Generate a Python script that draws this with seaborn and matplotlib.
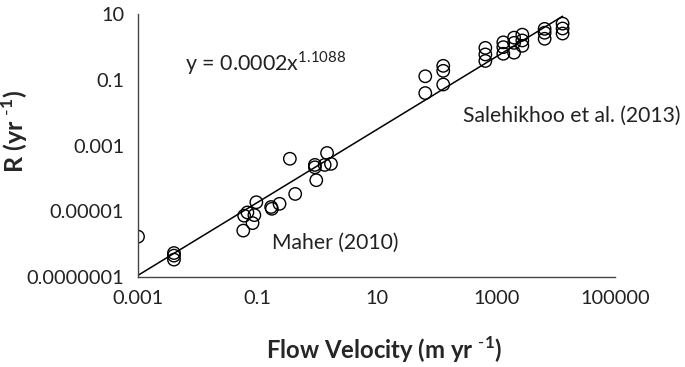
import numpy as np
import pandas as pd
import matplotlib
matplotlib.use('Agg')
import matplotlib.pyplot as plt
import seaborn as sns

# Flow velocity (m/yr) and weathering rate R (1/yr)
velocity = [0.001, 0.004, 0.004, 0.004,
            0.058, 0.060, 0.068, 0.083, 0.089, 0.096, 0.17, 0.175, 0.235, 0.35, 0.43,
            0.92, 0.92, 0.97, 1.47, 1.34, 1.71,
            65, 65, 130, 130, 130,
            660, 660, 660, 1320, 1320, 1320, 2000, 2000, 2000,
            2750, 2750, 2750, 6500, 6500, 6500, 13000, 13000, 13000]
rate = [1.7e-6, 5.4e-7, 4.5e-7, 3.4e-7,
        2.6e-6, 7.4e-6, 9.3e-6, 4.4e-6, 7.7e-6, 1.9e-5, 1.36e-5, 1.2e-5, 1.7e-5, 4.0e-4, 3.4e-5,
        2.6e-4, 2.2e-4, 8.9e-5, 6.0e-4, 2.6e-4, 2.8e-4,
        0.13, 0.04, 0.27, 0.19, 0.073,
        0.95, 0.6, 0.38, 1.4, 1.0, 0.63, 1.95, 1.35, 0.68,
        2.4, 1.6, 1.1, 3.6, 2.75, 1.8, 5.2, 3.7, 2.6]

# power-law trendline (label shows the rounded coefficient)
fit_a = 0.00024
fit_b = 1.1088
fit_x = [0.001, 13000]
fit_label = 'y = 0.0002x$^{\\mathregular{1.1088}}$'

x_ticks = [0.001, 0.1, 10, 1000, 100000]
x_ticklabels = ['0.001', '0.1', '10', '1000', '100000']
y_ticks = [1e-7, 1e-5, 1e-3, 1e-1, 10]
y_ticklabels = ['0.0000001', '0.00001', '0.001', '0.1', '10']

df = pd.DataFrame({'velocity': velocity, 'rate': rate})

sns.set_style('white')
plt.rcParams['font.family'] = ['Lato', 'DejaVu Sans']
plt.rcParams['mathtext.fontset'] = 'custom'
plt.rcParams['mathtext.rm'] = 'Lato'
plt.rcParams['mathtext.bf'] = 'Lato:bold'

fig = plt.figure(figsize=(6.85, 3.67), dpi=100)
ax = fig.add_axes([0.2015, 0.245, 0.697, 0.716])

fx = np.logspace(np.log10(fit_x[0]), np.log10(fit_x[1]), 50)
ax.plot(fx, fit_a * fx ** fit_b, color='black', lw=1.1, zorder=1)

sns.scatterplot(data=df, x='velocity', y='rate', ax=ax, s=80,
                facecolor='none', edgecolor='black', linewidth=1.0, zorder=2)

ax.set_xscale('log')
ax.set_yscale('log')
ax.set_xlim(0.001, 100000)
ax.set_ylim(1e-7, 10)
ax.set_xticks(x_ticks)
ax.set_xticklabels(x_ticklabels)
ax.set_yticks(y_ticks)
ax.set_yticklabels(y_ticklabels)
ax.minorticks_off()

for side in ['top', 'right']:
    ax.spines[side].set_visible(False)
for side in ['left', 'bottom']:
    ax.spines[side].set_color('#444444')
    ax.spines[side].set_linewidth(1.0)
ax.tick_params(axis='both', direction='out', length=5, width=1, color='#444444',
               labelsize=14.4, labelcolor='#222222')
ax.tick_params(axis='y', pad=5)
ax.tick_params(axis='x', pad=4)

ax.set_xlabel('Flow Velocity (m yr $^{\\mathregular{\\text{-}1}}$)', fontsize=17.2, fontweight='bold',
              va='center')
ax.set_ylabel('R (yr $^{\\mathregular{\\text{-}1}}$)', fontsize=18, fontweight='bold', va='center')
ax.xaxis.set_label_coords(0.516, -0.278)
ax.yaxis.set_label_coords(-0.258, 0.553)

txt = '#222222'
ax.text(0.0062, 0.33, fit_label, fontsize=15.5, color=txt, va='center')
ax.text(275, 0.0081, 'Salehikhoo et al. (2013)', fontsize=15.2, color=txt, va='center')
ax.text(0.178, 1.1e-6, 'Maher (2010)', fontsize=15.2, color=txt, va='center')

fig.savefig('out.png', dpi=100)
